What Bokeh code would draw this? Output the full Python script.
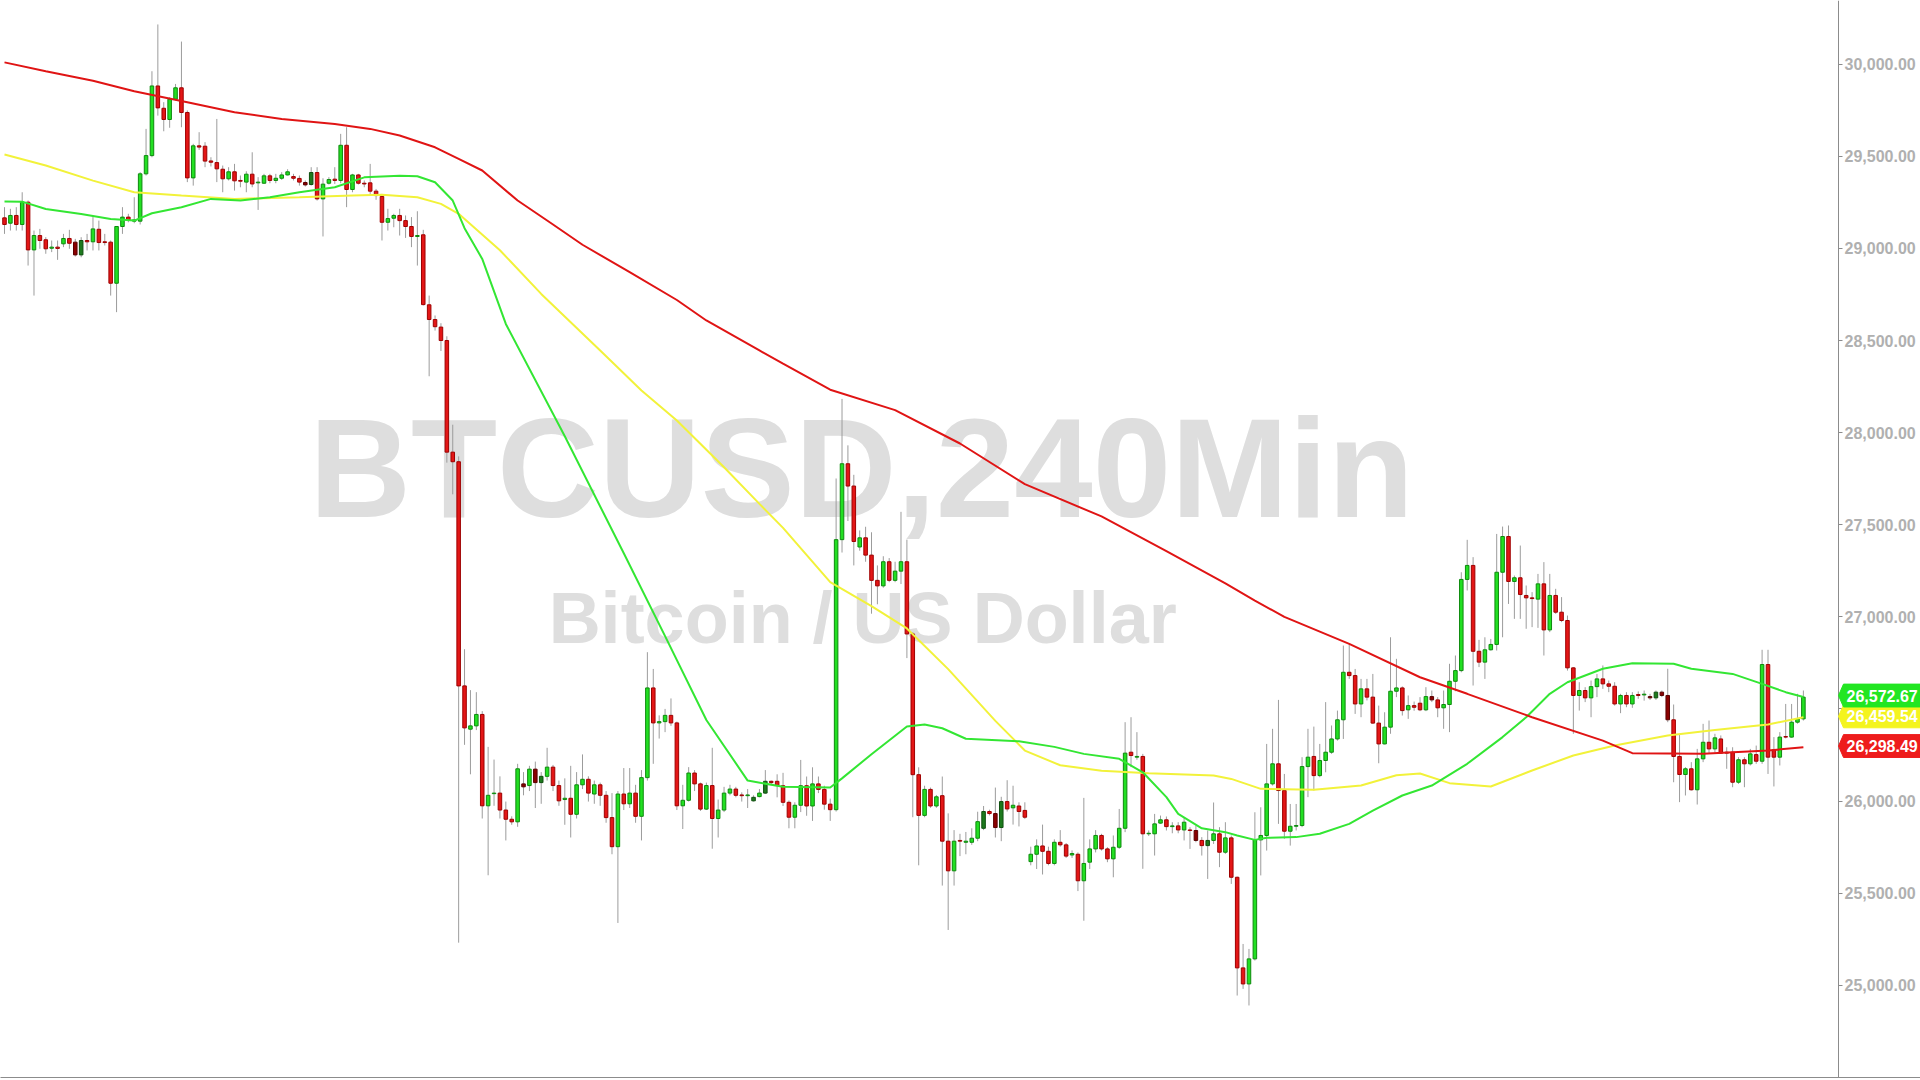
from bokeh.plotting import figure
from bokeh.models import (Range1d, LinearAxis, FixedTicker,
                          NumeralTickFormatter, ColumnDataSource)
from bokeh.core.properties import value
from bokeh.embed import file_html
from bokeh.resources import INLINE

# ---------------- data (BTCUSD, 240 min candles) ----------------
opens = [29166, 29137, 29179, 29130, 29251, 28992, 29070, 29047, 29001, 29007,
         29025, 29054, 29034, 28965, 29043, 29036, 29104, 29036, 29034, 28811,
         29119, 29170, 29148, 29148, 29405, 29504, 29882, 29761, 29700, 29810,
         29872, 29738, 29383, 29557, 29555, 29475, 29466, 29430, 29378, 29416,
         29369, 29360, 29403, 29356, 29354, 29394, 29369, 29381, 29399, 29390,
         29380, 29358, 29347, 29412, 29269, 29354, 29376, 29369, 29560, 29320,
         29399, 29354, 29356, 29311, 29282, 29142, 29164, 29179, 29151, 29119,
         29065, 29074, 28694, 28614, 28573, 28500, 27894, 27842, 26625, 26390,
         26408, 26470, 25974, 26040, 26043, 25951, 25901, 25887, 26093, 26084,
         26173, 26100, 26134, 26184, 26084, 26008, 26015, 25928, 26088, 26118,
         26038, 26088, 26031, 25910, 25752, 26038, 25985, 26043, 25917, 26127,
         26614, 26424, 26431, 26465, 26424, 25974, 26004, 26152, 26093, 25956,
         26084, 25905, 25951, 26043, 26065, 26033, 26029, 26001, 26024, 26043,
         26107, 26107, 26083, 25993, 25912, 25977, 26083, 25973, 26093, 26063,
         25983, 25953, 27419, 27831, 27710, 27379, 27429, 27335, 27198, 27168,
         27299, 27198, 27248, 27299, 26907, 26143, 25922, 26063, 25973, 26029,
         25782, 25621, 25786, 25776, 25776, 25798, 25852, 25943, 25932, 25856,
         25997, 25963, 25973, 25949, 25671, 25711, 25756, 25727, 25661, 25776,
         25762, 25707, 25711, 25567, 25668, 25740, 25813, 25740, 25686, 25749,
         25852, 26265, 26238, 26242, 25822, 25822, 25880, 25898, 25861, 25865,
         25843, 25843, 25840, 25786, 25758, 25786, 25822, 25722, 25800, 25586,
         25094, 25007, 25143, 25789, 25813, 26093, 26202, 26057, 25836, 25863,
         25867, 26187, 26242, 26138, 26220, 26265, 26337, 26441, 26699, 26681,
         26527, 26609, 26564, 26423, 26310, 26401, 26596, 26614, 26495, 26518,
         26531, 26495, 26567, 26549, 26506, 26524, 26650, 26708, 27203, 27279,
         26813, 26754, 26821, 26850, 27242, 27436, 27192, 27212, 27116, 27103,
         27096, 27179, 26929, 27116, 27025, 26980, 26723, 26573, 26600, 26560,
         26621, 26663, 26636, 26623, 26527, 26573, 26527, 26578, 26576, 26567,
         26560, 26591, 26573, 26441, 26242, 26144, 26175, 26061, 26229, 26319,
         26283, 26337, 26265, 26265, 26102, 26224, 26202, 26252, 26216, 26741,
         26278, 26238, 26350, 26347, 26428, 26446]
highs = [29224, 29215, 29224, 29305, 29260, 29097, 29106, 29061, 29043, 29043,
         29079, 29101, 29052, 29061, 29079, 29173, 29151, 29079, 29043, 29119,
         29224, 29188, 29278, 29414, 29649, 29962, 30216, 29794, 29821, 29893,
         30123, 29749, 29568, 29631, 29577, 29495, 29703, 29450, 29441, 29459,
         29396, 29419, 29522, 29387, 29405, 29405, 29405, 29414, 29430, 29405,
         29396, 29369, 29441, 29441, 29381, 29387, 29441, 29622, 29658, 29405,
         29405, 29369, 29459, 29323, 29296, 29215, 29188, 29215, 29179, 29170,
         29202, 29101, 28744, 28636, 28594, 28523, 28043, 27871, 26824, 26602,
         26591, 26488, 26294, 26225, 26134, 25997, 25917, 26202, 26157, 26191,
         26214, 26157, 26289, 26196, 26111, 26123, 26191, 26157, 26253, 26134,
         26111, 26100, 26054, 26043, 26054, 26179, 26179, 26088, 26168, 26808,
         26717, 26465, 26500, 26557, 26431, 26088, 26184, 26168, 26100, 26100,
         26289, 26008, 26077, 26088, 26077, 26047, 26065, 26031, 26065, 26168,
         26111, 26145, 26153, 26003, 25993, 26223, 26133, 26183, 26133, 26083,
         26013, 27751, 28183, 27931, 27771, 27469, 27489, 27459, 27279, 27329,
         27319, 27299, 27570, 27419, 26917, 26183, 26083, 26073, 26033, 26133,
         25933, 25842, 25822, 25832, 25852, 25942, 25973, 25953, 26073, 26023,
         26113, 26083, 25993, 25993, 25752, 25792, 25872, 25752, 25792, 25842,
         25772, 25732, 25721, 26017, 25792, 25842, 25822, 25749, 25813, 25957,
         26428, 26455, 26374, 26256, 25840, 25930, 25921, 25916, 25885, 25885,
         25912, 25858, 25867, 25804, 25840, 25992, 25858, 25885, 25813, 25590,
         25224, 25197, 25939, 25966, 26310, 26392, 26549, 26147, 25984, 25984,
         26238, 26392, 26404, 26310, 26537, 26410, 26491, 26844, 26853, 26717,
         26663, 26663, 26690, 26518, 26482, 26889, 26772, 26622, 26573, 26540,
         26564, 26618, 26600, 26564, 26600, 26745, 26790, 27242, 27418, 27324,
         26875, 26889, 26880, 27450, 27490, 27496, 27224, 27387, 27170, 27134,
         27233, 27297, 27233, 27152, 27107, 27007, 26727, 26645, 26618, 26654,
         26690, 26736, 26654, 26645, 26582, 26591, 26591, 26595, 26600, 26582,
         26600, 26600, 26718, 26524, 26365, 26184, 26211, 26283, 26419, 26437,
         26365, 26356, 26292, 26292, 26238, 26238, 26283, 26301, 26821, 26821,
         26347, 26374, 26527, 26527, 26582, 26600]
lows = [29079, 29097, 29097, 29097, 28907, 28744, 28998, 28971, 28980, 28938,
        29007, 28998, 28956, 28952, 28989, 28989, 28989, 29016, 28744, 28654,
        29079, 29142, 29137, 29130, 29396, 29495, 29721, 29636, 29655, 29803,
        29658, 29360, 29341, 29535, 29441, 29445, 29360, 29305, 29369, 29314,
        29332, 29305, 29332, 29209, 29350, 29354, 29354, 29372, 29396, 29369,
        29341, 29336, 29341, 29260, 29065, 29347, 29350, 29354, 29224, 29305,
        29347, 29332, 29296, 29264, 29043, 29097, 29115, 29070, 29057, 29007,
        28907, 28690, 28306, 28554, 28443, 27837, 27665, 25231, 26305, 26145,
        26385, 25905, 25597, 25974, 25905, 25786, 25871, 25860, 26031, 26054,
        25962, 25985, 26111, 26054, 25974, 25871, 25802, 25905, 26065, 25997,
        25985, 25974, 25882, 25711, 25338, 25951, 25962, 25882, 25786, 26111,
        26202, 26339, 26374, 26408, 25951, 25848, 25997, 26054, 25946, 25951,
        25741, 25802, 25940, 26031, 26020, 25997, 25962, 25997, 26020, 26038,
        26088, 26020, 25973, 25852, 25852, 25940, 25920, 25892, 26043, 25953,
        25892, 25943, 27349, 27520, 27279, 27359, 27299, 27017, 27068, 27158,
        27188, 27188, 27178, 26776, 25912, 25651, 25912, 25963, 25963, 25541,
        25300, 25541, 25701, 25711, 25762, 25782, 25842, 25922, 25802, 25782,
        25943, 25872, 25862, 25902, 25651, 25631, 25601, 25651, 25651, 25752,
        25691, 25691, 25511, 25350, 25631, 25721, 25731, 25668, 25586, 25740,
        25831, 26184, 26224, 25632, 25810, 25704, 25876, 25840, 25825, 25825,
        25786, 25740, 25776, 25704, 25577, 25767, 25641, 25713, 25550, 24944,
        24980, 24890, 25134, 25596, 25731, 26084, 25876, 25795, 25758, 25840,
        25858, 26021, 26057, 26129, 26156, 26256, 26328, 26337, 26663, 26473,
        26455, 26546, 26419, 26205, 26307, 26365, 26564, 26464, 26446, 26490,
        26488, 26488, 26537, 26455, 26392, 26374, 26596, 26699, 27143, 26627,
        26727, 26663, 26817, 26817, 26889, 27070, 26989, 26989, 26935, 26944,
        26940, 26790, 26917, 27016, 26971, 26708, 26365, 26491, 26537, 26455,
        26564, 26609, 26591, 26518, 26477, 26509, 26506, 26555, 26545, 26549,
        26549, 26564, 26428, 26102, 25994, 26030, 26057, 25981, 26211, 26256,
        26265, 26256, 26175, 26075, 26093, 26075, 26193, 26202, 26202, 26147,
        26079, 26193, 26340, 26343, 26420, 26437]
closes = [29130, 29179, 29130, 29251, 28992, 29070, 29043, 28998, 29007, 29000,
          29054, 29028, 28965, 29043, 29036, 29106, 29032, 29032, 28811, 29119,
          29170, 29155, 29155, 29405, 29504, 29882, 29763, 29700, 29810, 29872,
          29738, 29383, 29557, 29550, 29474, 29468, 29432, 29378, 29416, 29367,
          29365, 29403, 29350, 29360, 29394, 29369, 29381, 29399, 29416, 29381,
          29360, 29345, 29412, 29269, 29349, 29374, 29369, 29560, 29320, 29399,
          29354, 29350, 29311, 29287, 29142, 29162, 29179, 29151, 29119, 29065,
          29070, 28695, 28614, 28575, 28500, 27894, 27842, 26625, 26397, 26408,
          26470, 25974, 26031, 26043, 25951, 25901, 25887, 26175, 26077, 26173,
          26100, 26134, 26184, 26084, 26001, 26015, 25928, 26088, 26118, 26043,
          26088, 26031, 25910, 25752, 26038, 25985, 26043, 25917, 26127, 26614,
          26424, 26431, 26465, 26424, 25974, 26004, 26152, 26093, 25956, 26084,
          25905, 25951, 26043, 26065, 26031, 26029, 26033, 26020, 26043, 26107,
          26100, 26084, 25993, 25912, 25977, 26083, 25973, 26093, 26063, 25983,
          25953, 27419, 27831, 27710, 27409, 27429, 27335, 27198, 27168, 27299,
          27198, 27248, 27299, 26907, 26143, 25922, 26063, 25973, 26023, 25782,
          25621, 25782, 25782, 25782, 25798, 25888, 25943, 25932, 25856, 25997,
          25957, 25977, 25943, 25912, 25711, 25756, 25727, 25661, 25776, 25762,
          25701, 25715, 25567, 25661, 25740, 25813, 25740, 25686, 25749, 25852,
          26260, 26247, 26242, 25822, 25825, 25876, 25898, 25861, 25865, 25843,
          25885, 25840, 25786, 25758, 25786, 25822, 25722, 25800, 25586, 25094,
          25007, 25143, 25789, 25813, 26093, 26202, 26057, 25836, 25863, 25867,
          26187, 26238, 26138, 26220, 26265, 26337, 26441, 26699, 26681, 26527,
          26609, 26564, 26423, 26310, 26401, 26596, 26614, 26491, 26518, 26509,
          26495, 26567, 26549, 26506, 26524, 26650, 26708, 27203, 27279, 26813,
          26754, 26821, 26850, 27242, 27436, 27192, 27212, 27121, 27103, 27099,
          27179, 26929, 27116, 27025, 26980, 26723, 26573, 26600, 26560, 26621,
          26663, 26636, 26623, 26527, 26573, 26527, 26573, 26573, 26580, 26560,
          26591, 26573, 26441, 26242, 26144, 26175, 26061, 26229, 26319, 26283,
          26343, 26260, 26260, 26102, 26224, 26202, 26256, 26216, 26741, 26238,
          26238, 26347, 26347, 26428, 26446, 26564]

# candles drawn with the darker body shade
dark_candles = [12, 13, 51, 52, 88, 90, 91, 127, 129, 166, 168, 169,
                202, 204, 242, 279, 280, 281, 282]

# moving averages (candle index, price)
ma50_idx = [0, 3, 7, 13, 18, 22, 25, 30, 35, 40, 45, 50, 56, 61, 67, 70, 73, 76,
            78, 81, 85, 95, 105, 112, 119, 126, 132, 140, 142, 147, 153, 156, 159,
            163, 172, 178, 183, 189, 193, 197, 199, 203, 207, 209, 212, 214, 219,
            223, 228, 232, 237, 242, 248, 254, 258, 262, 265, 271, 276, 283, 286,
            293, 298, 302, 305]
ma50_val = [29255, 29254, 29214, 29187, 29160, 29151, 29191, 29224, 29269, 29260,
            29278, 29305, 29332, 29386, 29395, 29392, 29359, 29260, 29110, 28943,
            28590, 27980, 27345, 26895, 26440, 26111, 26077, 26073, 26123, 26254,
            26405, 26415, 26395, 26338, 26324, 26294, 26256, 26229, 26156, 26021,
            25930, 25852, 25831, 25813, 25789, 25800, 25804, 25822, 25876, 25948,
            26030, 26084, 26202, 26347, 26455, 26582, 26645, 26718, 26748, 26745,
            26718, 26690, 26636, 26591, 26565]
ma100_idx = [0, 7, 15, 22, 30, 39, 50, 59, 64, 70, 74, 77, 84, 91, 101, 108, 114,
             122, 128, 132, 140, 147, 153, 160, 168, 173, 179, 186, 194, 205, 208,
             213, 222, 230, 236, 240, 245, 252, 259, 266, 273, 282, 290, 299, 305]
ma100_val = [29510, 29450, 29368, 29305, 29287, 29269, 29278, 29287, 29291, 29278,
             29242, 29188, 28990, 28753, 28446, 28229, 28066, 27812, 27613, 27483,
             27188, 27058, 26937, 26716, 26435, 26274, 26194, 26164, 26151, 26138,
             26120, 26066, 26061, 26084, 26140, 26149, 26097, 26079, 26166, 26247,
             26301, 26356, 26386, 26415, 26455]
ma200_idx = [0, 7, 15, 22, 31, 39, 47, 56, 62, 67, 73, 77, 81, 87, 93, 98, 106,
             114, 119, 128, 132, 140, 151, 162, 173, 186, 197, 207, 212, 217, 228,
             240, 248, 259, 271, 276, 288, 299, 305]
ma200_val = [30010, 29962, 29910, 29853, 29794, 29739, 29703, 29676, 29649, 29613,
             29549, 29486, 29423, 29260, 29130, 29020, 28871, 28720, 28609, 28446,
             28374, 28233, 28122, 27941, 27720, 27545, 27357, 27182, 27088, 27000,
             26853, 26672, 26582, 26455, 26328, 26260, 26256, 26274, 26292]

ma_last = [26572.67, 26459.54, 26298.49]   # green (50), yellow (100), red (200)
ma_last_text = ["26,572.67", "26,459.54", "26,298.49"]

y_ticks = [25000, 25500, 26000, 26500, 27000, 27500, 28000, 28500, 29000, 29500, 30000]
title_main = "BTCUSD,240Min"
title_sub = "Bitcoin / US Dollar"

# ---------------- styling ----------------
GREEN = "#22e022"
GREEN_LINE = "#0d8a0d"
DARK_GREEN = "#1d7a1d"
RED = "#e31616"
RED_LINE = "#9e0000"
DARK_RED = "#8a0000"
WICK = "#9c9c9c"
MA50_C = "#33e633"
MA100_C = "#f2f23a"
MA200_C = "#e01414"
AXIS_C = "#8c8c8c"
LABEL_C = "#b0b0b0"
WM_C = "#dedede"

PX = 5.898            # pixels per candle slot
X0 = -4 / PX          # left edge of the page
X1 = (1920 - 4) / PX  # right edge of the page
XAX = (1838 - 4) / PX # price axis position
Y0, Y1 = 24499, 30346

p = figure(width=1920, height=1080, x_range=Range1d(X0, X1), y_range=Range1d(Y0, Y1),
           toolbar_location=None, output_backend="svg",
           x_axis_location=None, y_axis_location=None,
           min_border_left=0, min_border_top=0, min_border_right=0, min_border_bottom=3,
           background_fill_color="white", border_fill_color="white")
p.outline_line_color = None
p.xgrid.visible = False
p.ygrid.visible = False

# watermark
wm = ColumnDataSource(dict(x=[145.3, 145.5], y=[27807, 26995],
                           t=[title_main, title_sub],
                           s=["141px", "72px"]))
p.text(x="x", y="y", text="t", source=wm, text_font=value("Liberation Sans"),
       text_font_style="bold", text_font_size="s", text_color=WM_C,
       text_align="center", text_baseline="alphabetic")

idx = list(range(len(opens)))
tops, bots, fills, lines = [], [], [], []
for i, (o, c) in enumerate(zip(opens, closes)):
    tops.append(max(o, c))
    bots.append(min(o, c))
    up = c >= o
    if i in dark_candles:
        fills.append(DARK_GREEN if up else DARK_RED)
        lines.append("#0f4f0f" if up else "#5a0000")
    else:
        fills.append(GREEN if up else RED)
        lines.append(GREEN_LINE if up else RED_LINE)

src = ColumnDataSource(dict(x=idx, o=opens, h=highs, l=lows, c=closes,
                            top=tops, bot=bots, fill=fills, line=lines))
p.segment(x0="x", y0="l", x1="x", y1="h", source=src, line_color=WICK, line_width=1)
p.vbar(x="x", width=0.6, top="top", bottom="bot", source=src,
       fill_color="fill", line_color="line", line_width=1)

# moving averages
p.line(ma100_idx, ma100_val, line_color=MA100_C, line_width=2)
p.line(ma50_idx, ma50_val, line_color=MA50_C, line_width=2)
p.line(ma200_idx, ma200_val, line_color=MA200_C, line_width=2)

# right price axis, drawn at a fixed position inside the page
yaxis = LinearAxis(ticker=FixedTicker(ticks=y_ticks),
                   formatter=NumeralTickFormatter(format="0,0.00"),
                   fixed_location=XAX)
yaxis.axis_line_color = AXIS_C
yaxis.major_tick_line_color = AXIS_C
yaxis.major_tick_out = 4
yaxis.major_tick_in = 0
yaxis.minor_tick_line_color = None
yaxis.minor_tick_out = 0
yaxis.major_label_standoff = 2
yaxis.major_label_text_color = LABEL_C
yaxis.major_label_text_font = "Liberation Sans"
yaxis.major_label_text_font_style = "bold"
yaxis.major_label_text_font_size = "16px"
p.add_layout(yaxis, "right")

xaxis = LinearAxis(ticker=FixedTicker(ticks=[]))
xaxis.axis_line_color = AXIS_C
xaxis.major_tick_line_color = None
xaxis.minor_tick_line_color = None
xaxis.major_tick_out = 0
xaxis.minor_tick_out = 0
xaxis.major_label_text_font_size = "0px"
xaxis.major_label_standoff = 0
p.add_layout(xaxis, "below")

# MA value tags on the price axis (red, yellow, then green on top)
tag_colors = ["#22e622", "#f4f41e", "#ee1c1c"]
half_h = 62
body_l = XAX + 5 / PX
for k in [2, 1, 0]:
    v = ma_last[k]
    p.patches(xs=[[XAX, body_l, X1 + 1, X1 + 1, body_l]],
              ys=[[v, v + half_h, v + half_h, v - half_h, v - half_h]],
              fill_color=tag_colors[k], line_color=tag_colors[k], level="overlay")
    p.text(x=[XAX + 8 / PX], y=[v], text=[ma_last_text[k]],
           text_color="white", text_font=value("Liberation Sans"),
           text_font_style="bold", text_font_size=value("16px"),
           text_baseline="middle", text_align="left", level="overlay")

open("out.html", "w").write(file_html(p, INLINE))
